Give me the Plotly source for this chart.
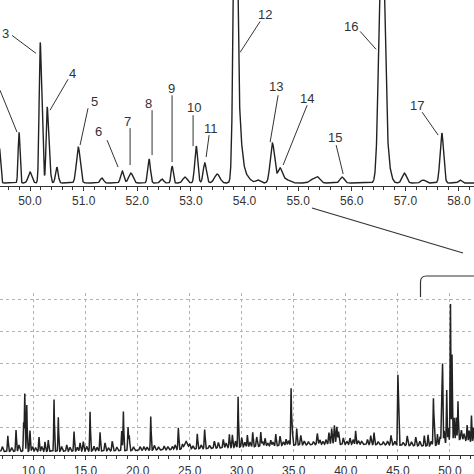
import numpy as np
import plotly.graph_objects as go

W = H = 474

# ---------------- data: expanded region (top panel), retention time (min), height, peak width (min)
top_rt = [49.43, 49.795, 50.00, 50.19, 50.235, 50.32, 50.365, 50.50, 50.90, 51.34, 51.72, 51.88,
          52.22, 52.46, 52.65, 52.89, 53.10, 53.26, 53.49, 53.83, 53.90, 53.98, 54.25, 54.52,
          54.66, 54.75, 55.26, 55.36, 55.82, 56.56, 56.65, 56.98, 57.33, 57.68, 58.02]
top_h = [35, 51, 11, 140, 50, 75, 18, 16, 36, 5, 12, 10,
         24, 4, 17, 6, 37, 20, 9, 350, 45, 10, 3, 40,
         13, 4, 3, 6, 6, 270, 25, 10, 3, 50, 3]
top_w = [0.02, 0.017, 0.035, 0.02, 0.016, 0.02, 0.02, 0.025, 0.035, 0.03, 0.03, 0.04,
         0.025, 0.03, 0.02, 0.04, 0.028, 0.03, 0.05, 0.035, 0.05, 0.09, 0.04, 0.04,
         0.04, 0.08, 0.05, 0.05, 0.04, 0.05, 0.06, 0.04, 0.04, 0.033, 0.03]

# peak labels of the expanded region
lab_text = ["3", "4", "5", "6", "7", "8", "9", "10", "11", "12", "13", "14", "15", "16", "17"]
lab_rt = [49.534, 50.784, 51.194, 51.269, 51.81, 52.201, 52.631, 53.06, 53.377, 54.384, 54.59,
          55.168, 55.69, 55.989, 57.22]
lab_h = [150, 110, 82, 52, 62, 80, 95, 76, 55, 169, 97, 85, 46, 157, 78]

# leader lines (from label to peak), including the one of peak 2 whose label is off-frame
lead_rt0 = [49.44, 49.664, 50.709, 51.082, 51.437, 51.866, 52.276, 52.649, 53.041, 53.34, 54.291,
            54.627, 55.168, 55.709, 56.157, 57.313]
lead_h0 = [93, 148, 104, 75, 43, 55, 73, 88, 68, 48, 162, 88, 78, 38, 152, 71]
lead_rt1 = [49.757, 50.112, 50.373, 50.933, 51.642, 51.866, 52.276, 52.649, 53.041, 53.284,
            53.918, 54.478, 54.72, 55.84, 56.455, 57.612]
lead_h1 = [51, 130, 73, 38, 16, 18, 28, 21, 37, 26, 131, 41, 18, 9, 134, 48]

# ---------------- data: full chromatogram (bottom panel)
bot_rt = [7.0, 7.53, 7.9, 8.32, 8.6, 9.05, 9.16, 9.35, 9.66, 9.9, 10.2, 10.53, 10.8, 11.1, 11.42,
          11.97, 12.38, 12.7, 13.19, 13.5, 13.89, 14.2, 14.47, 14.78, 15.1, 15.43, 15.8, 16.1,
          16.39, 16.87, 17.2, 17.57, 18.0, 18.47, 18.63, 19.08, 19.2, 19.6, 20.23, 20.6, 20.9,
          21.26, 21.6, 22.0, 22.54, 22.9, 23.33, 23.6, 23.91, 24.3, 24.65, 25.0, 25.3, 25.73,
          26.1, 26.44, 26.9, 27.37, 27.75, 28.23, 28.5, 28.81, 29.1, 29.4, 29.65, 30.0, 30.3,
          30.54, 30.8, 31.06, 31.44, 31.83, 32.0, 32.24, 32.5, 32.79, 33.0, 33.27, 33.68, 34.0,
          34.26, 34.5, 34.74, 34.85, 35.28, 35.67, 36.0, 36.4, 36.88, 37.26, 37.5, 37.8, 38.1,
          38.38, 38.64, 38.9, 39.13, 39.3, 39.76, 40.1, 40.4, 40.7, 40.94, 41.2, 41.52, 42.07,
          42.39, 42.71, 43.1, 43.6, 44.0, 44.34, 44.7, 44.99, 45.05, 45.5, 45.9, 46.3, 46.72,
          47.1, 47.54, 47.9, 48.2, 48.41, 48.5, 48.8, 49.05, 49.2, 49.29, 49.45, 49.69, 49.85,
          50.05, 50.2, 50.4, 50.6, 50.77, 51.1, 51.35, 51.65, 51.85, 52.07, 52.25]
bot_h = [0.15, 0.49, 0.12, 0.67, 0.2, 0.9, 1.8, 1.45, 0.65, 0.15, 0.12, 0.45, 0.15, 0.3, 0.35,
         1.62, 1.06, 0.15, 0.2, 0.12, 0.62, 0.12, 0.26, 0.3, 0.15, 1.23, 0.15, 0.12,
         0.59, 0.25, 0.1, 0.3, 0.12, 0.62, 1.23, 0.73, 0.45, 0.12, 0.12, 0.12, 0.1,
         1.05, 0.15, 0.1, 0.12, 0.1, 0.1, 0.15, 0.68, 0.15, 0.25, 0.15, 0.1, 0.47,
         0.12, 0.6, 0.1, 0.22, 0.18, 0.27, 0.15, 0.42, 0.4, 0.2, 1.58, 0.3, 0.15,
         0.37, 0.15, 0.45, 0.3, 0.45, 0.15, 0.25, 0.1, 0.18, 0.12, 0.37, 0.3, 0.12,
         0.2, 0.15, 1.77, 0.5, 0.52, 0.3, 0.12, 0.1, 0.1, 0.35, 0.15, 0.1, 0.15,
         0.37, 0.5, 0.6, 0.55, 0.4, 0.2, 0.1, 0.2, 0.15, 0.43, 0.12, 0.1, 0.16,
         0.28, 0.38, 0.1, 0.1, 0.12, 0.3, 0.12, 1.88, 1.1, 0.1, 0.3, 0.12, 0.27,
         0.15, 0.33, 0.35, 0.15, 1.45, 0.8, 0.35, 0.25, 1.65, 2.45, 0.4, 1.65, 0.45,
         4.3, 2.7, 0.7, 0.7, 1.2, 0.3, 0.2, 0.5, 0.35, 0.85, 0.5]
bot_w = [0.06, 0.04, 0.06, 0.04, 0.06, 0.035, 0.035, 0.035, 0.04, 0.06, 0.06, 0.04, 0.06, 0.04, 0.04,
         0.035, 0.035, 0.06, 0.05, 0.06, 0.04, 0.06, 0.05, 0.05, 0.06, 0.035, 0.06, 0.06,
         0.04, 0.05, 0.06, 0.05, 0.06, 0.04, 0.035, 0.04, 0.04, 0.06, 0.06, 0.06, 0.06,
         0.035, 0.06, 0.06, 0.06, 0.06, 0.06, 0.06, 0.04, 0.06, 0.15, 0.06, 0.06, 0.04,
         0.06, 0.04, 0.06, 0.05, 0.05, 0.05, 0.06, 0.04, 0.04, 0.05, 0.035, 0.05, 0.06,
         0.04, 0.06, 0.04, 0.05, 0.04, 0.06, 0.05, 0.06, 0.05, 0.06, 0.04, 0.05, 0.06,
         0.05, 0.06, 0.035, 0.04, 0.04, 0.05, 0.06, 0.06, 0.06, 0.05, 0.06, 0.06, 0.06,
         0.05, 0.05, 0.05, 0.05, 0.05, 0.05, 0.06, 0.05, 0.06, 0.04, 0.06, 0.06, 0.05,
         0.05, 0.04, 0.06, 0.06, 0.06, 0.05, 0.06, 0.035, 0.035, 0.06, 0.05, 0.06, 0.05,
         0.06, 0.04, 0.04, 0.06, 0.035, 0.035, 0.04, 0.05, 0.035, 0.035, 0.04, 0.035, 0.04,
         0.035, 0.035, 0.04, 0.04, 0.035, 0.05, 0.05, 0.04, 0.04, 0.035, 0.04]
# slow baseline drift of the full run: level offset and broad humps (rt, height, width)
bot_base = 0.25
drift_rt = [40.0, 51.0]
drift_h = [0.22, 0.25]
drift_w = [10.0, 1.2]


def trace_from_peaks(t, rts, hs, ws):
    y = np.zeros_like(t)
    for r, h, w in zip(rts, hs, ws):
        y += h * np.exp(-0.5 * ((t - r) / w) ** 2)
    return y


t_top = np.arange(49.30, 58.40, 0.002)
y_top = trace_from_peaks(t_top, top_rt, top_h, top_w)

t_bot = np.arange(6.6, 52.4, 0.004)
y_bot = bot_base + trace_from_peaks(t_bot, drift_rt, drift_h, drift_w) + \
    trace_from_peaks(t_bot, bot_rt, bot_h, bot_w)

INK = "#222222"
TXT = "#333333"
FONT = "Liberation Sans, Arial, sans-serif"


def px(x):
    return x / W


def py(y):
    return 1 - y / H


fig = go.Figure()
fig.add_trace(go.Scatter(x=t_top, y=y_top, mode="lines", xaxis="x", yaxis="y",
                         line=dict(color=INK, width=1.4), hoverinfo="skip"))
fig.add_trace(go.Scatter(x=t_bot, y=y_bot, mode="lines", xaxis="x2", yaxis="y2",
                         line=dict(color=INK, width=1.5), hoverinfo="skip"))

shapes = []
for a, b, c, d in zip(lead_rt0, lead_h0, lead_rt1, lead_h1):
    shapes.append(dict(type="line", xref="x", yref="y", x0=a, y0=b, x1=c, y1=d,
                       line=dict(color=TXT, width=1)))
# connector from the expanded region to the full run, and the bracket
shapes.append(dict(type="line", xref="paper", yref="paper", x0=px(312), y0=py(208),
                   x1=px(463), y1=py(253), line=dict(color=TXT, width=1.2)))
shapes.append(dict(type="path", xref="paper", yref="paper",
                   path=f"M {px(420.5)},{py(297)} L {px(420.5)},{py(282)} "
                        f"Q {px(420.5)},{py(276)} {px(426.5)},{py(276)} L {px(474)},{py(276)}",
                   line=dict(color=TXT, width=1.2)))

annotations = []
for s, r, h in zip(lab_text, lab_rt, lab_h):
    annotations.append(dict(text=s, x=r, y=h, xref="x", yref="y", showarrow=False,
                            font=dict(family=FONT, size=13, color=TXT)))

fig.update_layout(
    width=W, height=H, margin=dict(l=0, r=0, t=0, b=0),
    paper_bgcolor="white", plot_bgcolor="white", showlegend=False,
    shapes=shapes, annotations=annotations,
    xaxis=dict(domain=[0, 1], anchor="y", range=[49.44, 58.28], tick0=50, dtick=1,
               tickformat=".1f", ticks="outside", ticklen=4, tickcolor=TXT, tickwidth=1,
               showline=True, linecolor=TXT, linewidth=1, showgrid=False, zeroline=False,
               tickfont=dict(family=FONT, size=12, color=TXT), automargin=False,
               minor=dict(dtick=0.2, tick0=50, ticks="outside", ticklen=3, tickcolor=TXT)),
    yaxis=dict(domain=[py(185.5), 1], range=[-2.5, 183.5], visible=False),
    xaxis2=dict(domain=[0, 1], anchor="y2", range=[6.78, 52.31], tick0=0, dtick=5,
                tickformat=".1f", ticks="outside", ticklen=4, tickcolor=TXT, tickwidth=1,
                showline=True, linecolor=TXT, linewidth=1, showgrid=True,
                gridcolor="#b4b4b4", griddash="dot", gridwidth=1, zeroline=False,
                tickfont=dict(family=FONT, size=12, color=TXT), automargin=False,
                ticklabelstandoff=1,
                minor=dict(dtick=1, tick0=0, ticks="outside", ticklen=3, tickcolor=TXT)),
    yaxis2=dict(domain=[py(455), py(293)], range=[0.14, 5.2], tickvals=[1, 2, 3, 4, 5],
                showticklabels=False, ticks="", showline=False, zeroline=False,
                showgrid=True, gridcolor="#b4b4b4", griddash="dot", gridwidth=1),
)

fig.write_html("out.html")
